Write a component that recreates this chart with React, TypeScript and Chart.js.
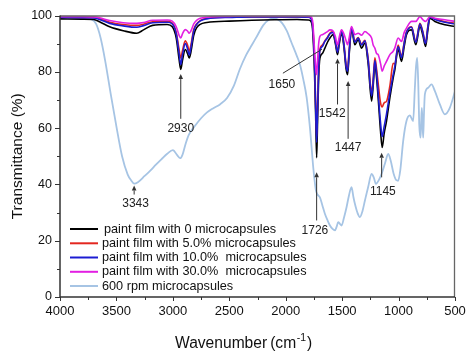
import React, { useEffect, useRef } from 'react';
import { Chart, registerables } from 'chart.js';

Chart.register(...registerables);

const FONT = "'Liberation Sans', Arial, Helvetica, sans-serif";

// Wavenumber grid (cm-1) shared by the four paint-film spectra
const filmWavenumbers = [
  4000, 3800, 3700, 3650, 3560, 3440, 3320, 3260, 3180, 3050,
  3005, 2970, 2945, 2930, 2915, 2890, 2870, 2855, 2840, 2815,
  2790, 2700, 2500, 2300, 2100, 1900, 1800, 1775, 1760, 1745,
  1735, 1726, 1718, 1708, 1697, 1675, 1653, 1630, 1608, 1580,
  1560, 1541, 1525, 1505, 1485, 1465, 1452, 1438, 1417, 1387,
  1358, 1328, 1298, 1269, 1239, 1225, 1210, 1195, 1181, 1160,
  1145, 1128, 1107, 1077, 1048, 1033, 1004, 974, 950, 930,
  885, 847, 811, 785, 761, 740, 723, 678, 590, 500,
];

const film0 = [
  98.8, 98.7, 98.6, 97.8, 96.0, 94.6, 93.7, 94.9, 96.5, 96.8,
  96.0, 92.0, 84.5, 80.8, 84.0, 87.9, 86.5, 84.9, 87.0, 93.0,
  95.6, 97.5, 98.0, 98.3, 98.5, 98.6, 98.4, 97.8, 94.0, 80.0,
  65.0, 49.5, 62.0, 78.0, 84.9, 86.5, 88.4, 90.5, 92.0, 93.2,
  90.0, 86.1, 90.0, 93.8, 89.0, 81.0, 79.0, 86.0, 94.9, 89.6,
  91.4, 88.4, 90.2, 82.6, 69.6, 75.0, 82.6, 78.0, 70.8, 59.0,
  53.1, 58.0, 62.5, 70.8, 77.8, 80.8, 87.9, 83.7, 89.0, 93.2,
  94.9, 89.6, 96.1, 93.0, 89.0, 95.0, 99.0, 97.9, 96.7, 96.1,
];

const film5 = [
  99.4, 99.3, 99.2, 98.9, 97.6, 96.8, 96.5, 96.9, 97.8, 97.9,
  97.3, 94.0, 88.0, 84.9, 87.5, 91.0, 89.5, 87.3, 89.5, 95.0,
  97.0, 99.0, 99.4, 99.5, 99.5, 99.5, 99.5, 99.0, 96.0, 84.0,
  69.0, 57.0, 68.0, 82.0, 88.0, 89.5, 91.0, 92.3, 93.8, 94.2,
  91.0, 87.3, 91.2, 94.6, 90.2, 82.5, 80.8, 87.5, 95.6, 90.8,
  92.2, 89.8, 91.2, 84.5, 72.5, 77.5, 85.0, 81.0, 76.0, 69.0,
  67.5, 69.0, 69.5, 75.0, 83.0, 82.8, 89.5, 85.5, 90.5, 94.2,
  96.0, 90.8, 97.2, 94.2, 90.2, 96.3, 99.5, 98.8, 97.8, 97.2,
];

const film10 = [
  99.3, 99.2, 99.1, 98.6, 97.2, 96.3, 95.8, 96.4, 97.4, 97.6,
  97.0, 93.5, 86.5, 82.6, 86.0, 90.0, 88.2, 86.0, 88.5, 94.5,
  96.8, 98.8, 99.3, 99.5, 99.5, 99.5, 99.4, 98.8, 95.5, 83.0,
  68.0, 55.0, 66.0, 81.0, 87.5, 89.0, 90.8, 92.0, 93.5, 94.0,
  90.8, 87.0, 91.0, 94.5, 90.0, 82.0, 80.2, 87.0, 95.5, 90.5,
  92.0, 89.5, 91.0, 84.0, 71.4, 76.5, 84.0, 79.5, 72.5, 62.0,
  57.0, 60.5, 65.0, 72.5, 79.0, 82.0, 89.0, 85.0, 90.2, 94.0,
  95.8, 90.5, 97.0, 94.0, 90.0, 96.0, 99.4, 98.6, 97.6, 97.0,
];

const film30 = [
  99.6, 99.6, 99.5, 99.2, 98.2, 97.4, 97.2, 97.5, 98.3, 98.4,
  98.0, 96.0, 93.0, 92.0, 93.5, 95.0, 94.5, 93.7, 94.5, 97.0,
  98.3, 99.4, 99.7, 99.8, 99.8, 99.8, 99.7, 99.5, 97.5, 88.0,
  82.0, 79.0, 84.0, 90.0, 92.6, 93.2, 93.7, 94.3, 94.9, 94.5,
  92.5, 89.6, 92.5, 94.9, 93.5, 91.0, 89.6, 92.0, 96.1, 93.2,
  93.7, 93.0, 94.3, 93.5, 92.0, 89.5, 88.4, 86.5, 86.1, 83.0,
  80.2, 82.0, 83.7, 86.1, 87.3, 88.5, 92.0, 90.8, 94.0, 95.5,
  97.9, 97.9, 99.6, 98.5, 97.9, 98.8, 99.6, 99.0, 98.5, 97.9,
];

// Wavenumber grid (cm-1) for the 600 rpm microcapsule spectrum
const capsuleWavenumbers = [
  4000, 3900, 3800, 3720, 3680, 3640, 3600, 3550, 3500, 3450,
  3400, 3370, 3343, 3310, 3250, 3200, 3150, 3100, 3050, 3000,
  2960, 2935, 2915, 2890, 2860, 2800, 2750, 2700, 2645, 2580,
  2520, 2460, 2406, 2350, 2300, 2250, 2200, 2150, 2110, 2070,
  2030, 1990, 1950, 1900, 1874, 1845, 1815, 1785, 1756, 1740,
  1732, 1720, 1697, 1675, 1653, 1630, 1608, 1585, 1564, 1550,
  1535, 1520, 1505, 1485, 1461, 1440, 1417, 1400, 1387, 1365,
  1343, 1320, 1298, 1270, 1239, 1220, 1201, 1175, 1151, 1120,
  1092, 1070, 1045, 1020, 1004, 985, 959, 930, 900, 871,
  856, 845, 835, 825, 817, 805, 800, 794, 788, 782,
  775, 767, 738, 708, 678, 634, 590, 546, 500,
];

const capsule600 = [
  99.3, 99.2, 99.0, 98.6, 97.0, 92.0, 84.0, 72.0, 60.5, 50.0,
  43.5, 41.5, 40.3, 40.8, 43.0, 44.9, 47.0, 49.0, 50.9, 52.2,
  50.3, 49.3, 50.5, 54.0, 57.5, 61.0, 63.5, 65.5, 67.0, 68.5,
  70.7, 75.0, 81.0, 86.0, 89.5, 93.0, 96.5, 98.5, 99.0, 98.6,
  97.2, 94.5, 90.5, 85.5, 82.6, 77.5, 71.0, 60.0, 46.0, 40.0,
  37.8, 36.5, 35.4, 32.5, 29.6, 27.3, 25.4, 24.2, 23.7, 24.8,
  26.6, 26.0, 25.4, 28.0, 31.9, 36.0, 39.0, 35.5, 33.1, 30.0,
  28.4, 30.5, 34.3, 39.0, 43.7, 42.5, 40.2, 41.5, 43.7, 47.5,
  50.8, 48.5, 44.0, 41.5, 41.3, 45.0, 55.5, 62.5, 64.5, 62.5,
  74.0, 82.0, 84.9, 75.0, 61.4, 56.6, 62.0, 67.2, 62.0, 56.6,
  65.0, 72.0, 74.3, 75.5, 73.1, 68.4, 64.9, 67.2, 73.1,
];

const seriesLabels = [
  'paint film with 0 microcapsules',
  'paint film with 5.0% microcapsules',
  'paint film with 10.0%  microcapsules',
  'paint film with 30.0%  microcapsules',
  '600 rpm microcapsules',
];
const seriesColors = ['#000000', '#e3261f', '#1c1cd2', '#e21fe2', '#a6c4e4'];

// Peak annotations (data coordinates: wavenumber, transmittance)
const peakLabels = ['3343', '2930', '1650', '1726', '1542', '1447', '1145'];
const peakTextX = [3330, 2930, 2034, 1741, 1588, 1447, 1139];
const peakTextY = [33.0, 59.7, 75.3, 23.4, 65.1, 53.1, 37.3];
const arrowFromX = [3343, 2930, 2025, 1726, 1541, 1447, 1150];
const arrowFromY = [36.4, 63.3, 79.5, 27.2, 68.4, 56.2, 42.5];
const arrowToX = [3343, 2930, 1679, 1726, 1541, 1447, 1150];
const arrowToY = [39.6, 79.2, 88.0, 44.3, 84.7, 76.7, 51.2];
const arrowHasHead = [true, true, false, true, true, true, true];

const xTitle = 'Wavenumber';
const yTitle = 'Transmittance (%)';

const decorPlugin = {
  id: 'decor',
  afterDatasetsDraw(chart: any) {
    const { ctx, scales } = chart;
    const xs = scales.x;
    const ys = scales.y;
    ctx.save();
    // annotations
    ctx.strokeStyle = '#333';
    ctx.fillStyle = '#333';
    ctx.lineWidth = 1;
    for (let i = 0; i < peakLabels.length; i++) {
      const x1 = xs.getPixelForValue(arrowFromX[i]);
      const y1 = ys.getPixelForValue(arrowFromY[i]);
      const x2 = xs.getPixelForValue(arrowToX[i]);
      const y2 = ys.getPixelForValue(arrowToY[i]);
      const ang = Math.atan2(y2 - y1, x2 - x1);
      const hl = arrowHasHead[i] ? 5 : 0;
      ctx.beginPath();
      ctx.moveTo(x1, y1);
      ctx.lineTo(x2 - Math.cos(ang) * hl, y2 - Math.sin(ang) * hl);
      ctx.stroke();
      if (arrowHasHead[i]) {
        ctx.beginPath();
        ctx.moveTo(x2, y2);
        ctx.lineTo(x2 - Math.cos(ang) * hl + Math.sin(ang) * 2.3, y2 - Math.sin(ang) * hl - Math.cos(ang) * 2.3);
        ctx.lineTo(x2 - Math.cos(ang) * hl - Math.sin(ang) * 2.3, y2 - Math.sin(ang) * hl + Math.cos(ang) * 2.3);
        ctx.closePath();
        ctx.fill();
      }
      ctx.fillStyle = '#222';
      ctx.font = `12px ${FONT}`;
      ctx.textAlign = 'center';
      ctx.textBaseline = 'middle';
      ctx.fillText(peakLabels[i], xs.getPixelForValue(peakTextX[i]), ys.getPixelForValue(peakTextY[i]));
      ctx.fillStyle = '#333';
    }
    ctx.restore();
  },
  afterDraw(chart: any) {
    const { ctx, chartArea: a, scales } = chart;
    const xs = scales.x;
    const ys = scales.y;
    ctx.save();
    // frame
    ctx.lineWidth = 1.3;
    ctx.strokeStyle = '#666';
    ctx.beginPath();
    ctx.moveTo(a.left, a.top + 0.5);
    ctx.lineTo(a.right - 0.5, a.top + 0.5);
    ctx.lineTo(a.right - 0.5, a.bottom);
    ctx.stroke();
    ctx.strokeStyle = '#333';
    ctx.lineWidth = 1.5;
    ctx.beginPath();
    ctx.moveTo(a.left, a.top);
    ctx.lineTo(a.left, a.bottom);
    ctx.lineTo(a.right, a.bottom);
    ctx.stroke();
    // tick marks
    ctx.lineWidth = 1;
    ctx.strokeStyle = '#333';
    ctx.beginPath();
    ys.ticks.forEach((t: any) => {
      const py = Math.round(ys.getPixelForValue(t.value)) + 0.5;
      const len = t.value % 20 === 0 ? 5 : 3;
      ctx.moveTo(a.left - len, py);
      ctx.lineTo(a.left, py);
    });
    xs.ticks.forEach((t: any) => {
      const px = Math.round(xs.getPixelForValue(t.value)) + 0.5;
      const len = t.value % 500 === 0 ? 4 : 3;
      ctx.moveTo(px, a.bottom);
      ctx.lineTo(px, a.bottom + len);
    });
    ctx.stroke();
    // x title with superscript
    ctx.fillStyle = '#111';
    ctx.textBaseline = 'alphabetic';
    ctx.textAlign = 'left';
    const base = 348;
    let cx = 175;
    ctx.font = `15.6px ${FONT}`;
    ctx.fillText(xTitle, cx, base);
    cx += ctx.measureText(xTitle).width + 3;
    ctx.fillText('(cm', cx, base);
    cx += ctx.measureText('(cm').width + 0.5;
    ctx.font = `10.5px ${FONT}`;
    ctx.fillText('-1', cx, base - 7);
    cx += ctx.measureText('-1').width + 1;
    ctx.font = `15.6px ${FONT}`;
    ctx.fillText(')', cx, base);
    // legend
    const rowY = [229, 243.3, 257.5, 271.8, 286];
    ctx.font = `12.7px ${FONT}`;
    ctx.textBaseline = 'middle';
    chart.data.datasets.forEach((ds: any, i: number) => {
      const yy = rowY[i];
      ctx.strokeStyle = ds.borderColor;
      ctx.lineWidth = 2;
      ctx.beginPath();
      ctx.moveTo(70, yy);
      ctx.lineTo(98, yy);
      ctx.stroke();
      ctx.fillStyle = '#111';
      ctx.fillText(ds.label, i === 0 ? 104 : 102, yy);
    });
    ctx.restore();
  },
};

export default function App() {
  const canvasRef = useRef<HTMLCanvasElement | null>(null);

  useEffect(() => {
    document.body.style.margin = '0';
    const canvas = canvasRef.current;
    if (!canvas) return;
    Chart.defaults.font.family = FONT;
    const filmSeries = [film0, film5, film10, film30];
    const datasets: any[] = filmSeries.map((vals, i) => ({
      label: seriesLabels[i],
      data: filmWavenumbers.map((w, k) => ({ x: w, y: vals[k] })),
      borderColor: seriesColors[i],
      backgroundColor: seriesColors[i],
      borderWidth: 1.6,
      pointRadius: 0,
      cubicInterpolationMode: 'monotone',
      order: 4 - i,
    }));
    datasets.push({
      label: seriesLabels[4],
      data: capsuleWavenumbers.map((w, k) => ({ x: w, y: capsule600[k] })),
      borderColor: seriesColors[4],
      backgroundColor: seriesColors[4],
      borderWidth: 1.8,
      pointRadius: 0,
      cubicInterpolationMode: 'monotone',
      order: 5,
    });

    const chart = new Chart(canvas, {
      type: 'line',
      data: { datasets },
      options: {
        animation: false,
        responsive: false,
        devicePixelRatio: 1,
        layout: { padding: { top: 14, right: 19, left: 0, bottom: 0 } },
        plugins: { legend: { display: false }, tooltip: { enabled: false } },
        scales: {
          x: {
            type: 'linear',
            reverse: true,
            min: 500,
            max: 4000,
            grid: { display: false, drawTicks: false },
            border: { display: false },
            ticks: {
              stepSize: 250,
              autoSkip: false,
              maxRotation: 0,
              padding: 7,
              color: '#111',
              font: { size: 13, family: FONT },
              callback: (v: any) => (Number(v) % 500 === 0 ? String(v) : ''),
            },
            afterFit: (s: any) => { s.height = 61; },
          },
          y: {
            type: 'linear',
            min: 0,
            max: 100,
            grid: { display: false, drawTicks: false },
            border: { display: false },
            ticks: {
              stepSize: 10,
              padding: 8,
              color: '#111',
              font: { size: 12.5, family: FONT },
              callback: (v: any) => (Number(v) % 20 === 0 ? String(v) : ''),
            },
            title: {
              display: true,
              text: yTitle,
              color: '#111',
              font: { size: 15.5, family: FONT },
              padding: { top: 8.7, bottom: 0 },
            },
            afterFit: (s: any) => { s.width = 60; },
          },
        },
      },
      plugins: [decorPlugin],
    } as any);
    return () => chart.destroy();
  }, []);

  return (
    <div style={{ position: 'fixed', left: 0, top: 0, width: 474, height: 358, background: '#fff' }}>
      <canvas ref={canvasRef} width={474} height={358} style={{ width: 474, height: 358, display: 'block' }} />
    </div>
  );
}
